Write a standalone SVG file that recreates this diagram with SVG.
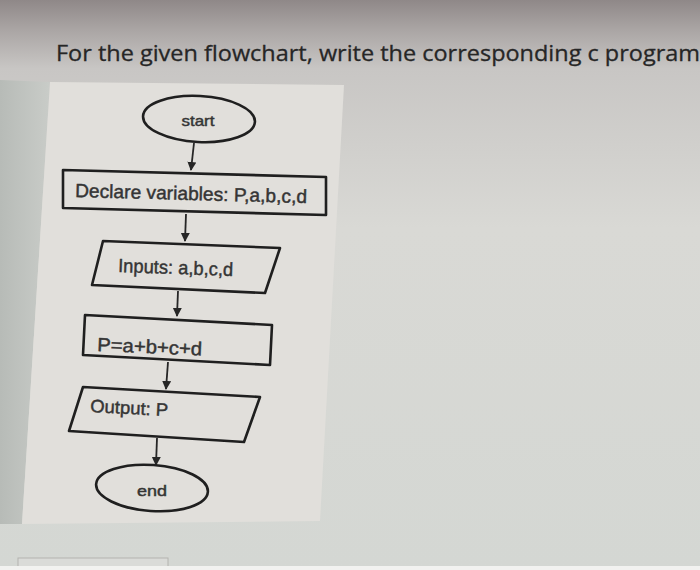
<svg xmlns="http://www.w3.org/2000/svg" width="700" height="570" viewBox="0 0 700 570">
  <defs>
    <linearGradient id="bg" x1="0" y1="0" x2="0" y2="1">
      <stop offset="0" stop-color="#8f8888"/>
      <stop offset="0.05" stop-color="#a9a4a3"/>
      <stop offset="0.12" stop-color="#c8c6c4"/>
      <stop offset="0.4" stop-color="#d9d9d5"/>
      <stop offset="1" stop-color="#d4d7d3"/>
    </linearGradient>
    <linearGradient id="side" x1="0" y1="0" x2="1" y2="0">
      <stop offset="0" stop-color="#b7bbb7"/>
      <stop offset="1" stop-color="#c9ccc8"/>
    </linearGradient>
    <marker id="arr" viewBox="0 0 10 10" refX="9" refY="5" markerWidth="9" markerHeight="9" markerUnits="userSpaceOnUse" orient="auto">
      <path d="M0,0 L10,5 L0,10 z" fill="#262626"/>
    </marker>
    <style>
      .shape { fill: none; stroke: #1f1f1f; stroke-width: 2.6; stroke-linejoin: round; }
      .lbl { font-family: "Liberation Sans", Arial, sans-serif; fill: #353535; stroke: #353535; stroke-width: 0.45; }
      .conn { stroke: #262626; stroke-width: 1.8; fill: none; }
      .title { font-family: "Open Sans", "Noto Sans", sans-serif; font-size: 22px; fill: #262626; stroke: #262626; stroke-width: 0.3; }
    </style>
  </defs>

  <rect x="0" y="0" width="700" height="570" fill="url(#bg)"/>
  <polygon points="0,80 50,82 22,524 0,524" fill="url(#side)"/>
  <polygon points="50,82 344,85 320,521 22,524" fill="#e1dfdb"/>
  <rect x="18" y="558" width="150" height="12" fill="#dadbd8" stroke="#b4b4b0" stroke-width="1"/>
  <rect x="0" y="566" width="700" height="4" fill="#f2f2f0"/>

  <text class="title" x="56" y="61" textLength="644" lengthAdjust="spacingAndGlyphs">For the given flowchart, write the corresponding c program</text>

  <g id="connectors">
    <line class="conn" x1="194" y1="143" x2="191" y2="170" marker-end="url(#arr)"/>
    <line class="conn" x1="186" y1="214" x2="185" y2="241" marker-end="url(#arr)"/>
    <line class="conn" x1="178" y1="291" x2="177" y2="316" marker-end="url(#arr)"/>
    <line class="conn" x1="168" y1="362" x2="166" y2="389" marker-end="url(#arr)"/>
    <line class="conn" x1="157" y1="438" x2="156" y2="465" marker-end="url(#arr)"/>
  </g>

  <g id="start">
    <ellipse class="shape" cx="199" cy="119" rx="56" ry="23" transform="rotate(3 199 119)"/>
    <text class="lbl" x="198" y="126" font-size="15" textLength="33" lengthAdjust="spacingAndGlyphs" text-anchor="middle">start</text>
  </g>

  <g id="declare">
    <polygon class="shape" points="63,170 326,177 326,215 63,208"/>
    <text class="lbl" x="75" y="197" font-size="19" textLength="232" lengthAdjust="spacingAndGlyphs" transform="rotate(1.5 75 197)">Declare variables: P,a,b,c,d</text>
  </g>

  <g id="inputs">
    <polygon class="shape" points="103,241 280,248 265,293 92,285"/>
    <text class="lbl" x="118" y="272" font-size="19" textLength="115" lengthAdjust="spacingAndGlyphs" transform="rotate(2 118 272)">Inputs: a,b,c,d</text>
  </g>

  <g id="compute">
    <polygon class="shape" points="85,315 272,325 270,365 83,355"/>
    <text class="lbl" x="97" y="351" font-size="19" textLength="105" lengthAdjust="spacingAndGlyphs" transform="rotate(2.5 97 351)">P=a+b+c+d</text>
  </g>

  <g id="output">
    <polygon class="shape" points="83,387 260,397 244,442 69,431"/>
    <text class="lbl" x="90" y="412" font-size="18" textLength="78" lengthAdjust="spacingAndGlyphs" transform="rotate(3 90 412)">Output: P</text>
  </g>

  <g id="end">
    <ellipse class="shape" cx="152" cy="488" rx="56" ry="23" transform="rotate(4 152 488)"/>
    <text class="lbl" x="152" y="496" font-size="15" textLength="30" lengthAdjust="spacingAndGlyphs" text-anchor="middle">end</text>
  </g>
</svg>
